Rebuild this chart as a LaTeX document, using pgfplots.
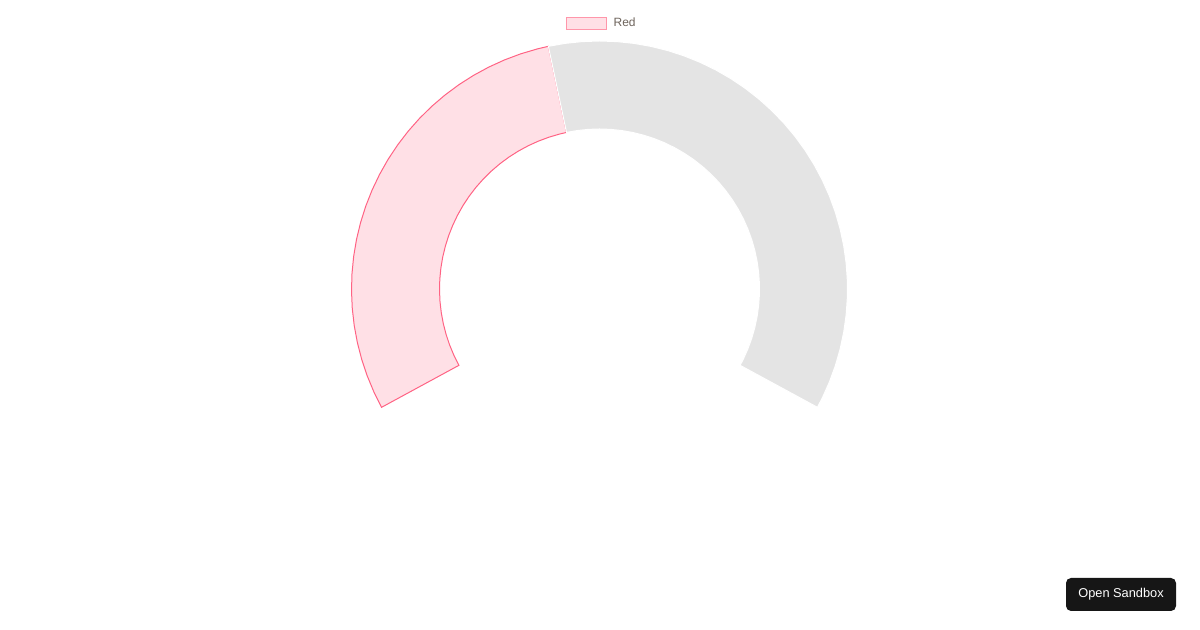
\documentclass[border=0pt]{standalone}
\usepackage{fontspec}
\setmainfont{Liberation Sans}
\usepackage{pgfplots}
\pgfplotsset{compat=1.18}

% gauge: 45 / 55 of a 237 degree sweep, outer radius 248, inner radius 160 (pixel units)
\definecolor{redline}{RGB}{255,99,132}
\definecolor{redfill}{RGB}{255,224,230}
\definecolor{legline}{RGB}{255,150,170}
\definecolor{restfill}{RGB}{228,228,228}
\definecolor{legtext}{RGB}{110,100,92}
\definecolor{btn}{RGB}{22,22,22}

\begin{document}
\begin{tikzpicture}
\begin{axis}[
  scale only axis,
  width=600pt,
  height=315pt,
  xmin=-599.5, xmax=600.5,
  ymin=-341, ymax=289,
  hide axis,
  clip=false,
  legend style={draw=none, fill=none, inner sep=0pt, outer sep=0pt,
    at={(axis cs:-33.8,265.7)}, anchor=west,
    nodes={inner sep=0pt, text=legtext, font=\fontsize{6}{7}\selectfont},
    /tikz/every odd column/.append style={column sep=3.2pt}},
  legend image code/.code={
    \draw[legline, line width=0.75pt, fill=redfill] (0pt,-3pt) rectangle (20pt,3pt);
  },
]
\path (rel axis cs:0,0) rectangle (rel axis cs:1,1);

% Red: 45
\addplot[draw=redline, line width=0.5pt, fill=redfill, data cs=polar] coordinates {
  (208.5,248) (204.5,248) (200.5,248) (196.5,248) (192.5,248) (188.5,248)
  (184.5,248) (180.5,248) (176.5,248) (172.5,248) (168.5,248) (164.5,248)
  (160.5,248) (156.5,248) (152.5,248) (148.5,248) (144.5,248) (140.5,248)
  (136.5,248) (132.5,248) (128.5,248) (124.5,248) (120.5,248) (116.5,248)
  (112.5,248) (108.5,248) (104.5,248) (101.9,248)
  (101.9,160) (104.5,160) (108.5,160) (112.5,160) (116.5,160) (120.5,160)
  (124.5,160) (128.5,160) (132.5,160) (136.5,160) (140.5,160) (144.5,160)
  (148.5,160) (152.5,160) (156.5,160) (160.5,160) (164.5,160) (168.5,160)
  (172.5,160) (176.5,160) (180.5,160) (184.5,160) (188.5,160) (192.5,160)
  (196.5,160) (200.5,160) (204.5,160) (208.5,160)
} -- cycle;
\addlegendentry{Red}

% rest: 55
\addplot[draw=white, line width=0.5pt, fill=restfill, data cs=polar, forget plot] coordinates {
  (101.9,248) (98,248) (94,248) (90,248) (86,248) (82,248) (78,248) (74,248)
  (70,248) (66,248) (62,248) (58,248) (54,248) (50,248) (46,248) (42,248)
  (38,248) (34,248) (30,248) (26,248) (22,248) (18,248) (14,248) (10,248)
  (6,248) (2,248) (-2,248) (-6,248) (-10,248) (-14,248) (-18,248) (-22,248)
  (-26,248) (-28.5,248)
  (-28.5,160) (-26,160) (-22,160) (-18,160) (-14,160) (-10,160) (-6,160)
  (-2,160) (2,160) (6,160) (10,160) (14,160) (18,160) (22,160) (26,160)
  (30,160) (34,160) (38,160) (42,160) (46,160) (50,160) (54,160) (58,160)
  (62,160) (66,160) (70,160) (74,160) (78,160) (82,160) (86,160) (90,160)
  (94,160) (98,160) (101.9,160)
} -- cycle;

\node[fill=btn, rounded corners=2.5pt, minimum width=55pt, minimum height=16.5pt,
  text=white, font=\fontsize{6.4}{7}\selectfont, inner sep=0pt]
  at (axis cs:521.5,-305.5) {Open Sandbox};
\end{axis}
\end{tikzpicture}
\end{document}
